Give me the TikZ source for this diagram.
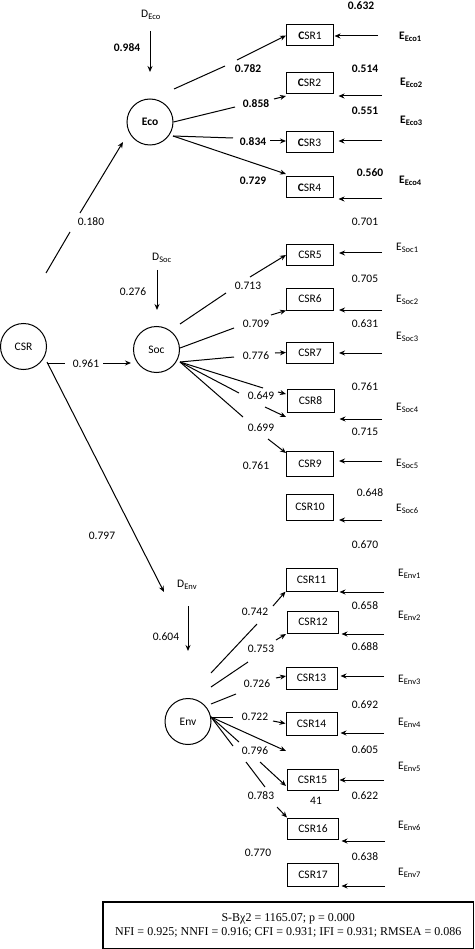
\documentclass[tikz,border=0pt]{standalone}
\usepackage{fontspec}
\setmainfont{Carlito}
\newfontfamily\timesfam{Liberation Serif}
\usetikzlibrary{arrows.meta}
\newcommand\lbl{\fontsize{11.5}{13}\selectfont}
\newcommand\subs[1]{\raisebox{-2pt}{\fontsize{8.5}{9}\selectfont #1}}
\begin{document}
\begin{tikzpicture}[x=1pt,y=-1pt,
  lat/.style={circle,draw,line width=1pt,minimum size=46pt,inner sep=0pt,font=\lbl},
  obs/.style={rectangle,draw,line width=1pt,minimum width=47pt,minimum height=21pt,inner sep=0pt,font=\lbl},
  obsw/.style={obs,minimum width=51pt,minimum height=22pt},
  num/.style={inner sep=0pt,font=\lbl},
  bnum/.style={inner sep=0pt,font=\lbl\bfseries},
  elab/.style={inner sep=0pt,anchor=base west,font=\lbl},
  belab/.style={elab,font=\lbl\bfseries},
  conn/.style={line width=1pt},
  arr/.style={conn,-{Stealth[length=6pt,width=5pt]}},
  err/.style={arr,shorten >=#1},
  err/.default=3pt,
]
\useasboundingbox (0,0) rectangle (474,949);

% ---------- latent variables
\node[lat] (csr) at (23.5,346.5) {CSR};
\node[lat,font=\lbl\bfseries] (eco) at (150,122) {Eco};
\node[lat] (soc) at (156.5,349.5) {Soc};
\node[lat] (env) at (188,721.5) {Env};

% ---------- observed variables
\node[obs] (c1) at (310,35.5) {\textbf{C}SR1};
\node[obs] (c2) at (309.5,83) {\textbf{C}SR2};
\node[obs] (c3) at (309.5,142.5) {\textbf{C}SR3};
\node[obs] (c4) at (309.5,187.5) {\textbf{C}SR4};
\node[obs] (c5) at (310,255) {CSR5};
\node[obs,minimum height=22pt] (c6) at (310,299) {CSR6};
\node[obs] (c7) at (310,352.5) {CSR7};
\node[obs,minimum height=23pt] (c8) at (310.5,401) {CSR8};
\node[obs,minimum height=25pt] (c9) at (310,463.5) {CSR9};
\node[obs,minimum height=26pt] (c10) at (310,507) {CSR10};
\node[obsw,minimum height=23pt] (c11) at (311.5,579.5) {CSR11};
\node[obsw] (c12) at (313,622) {CSR12};
\node[obsw] (c13) at (311.5,678) {CSR13};
\node[obsw,minimum height=23pt] (c14) at (311.5,723.5) {CSR14};
\node[obsw,minimum height=21pt] (c15) at (312.5,779.5) {CSR15};
\node[obsw,minimum height=21pt] (c16) at (313,828.5) {CSR16};
\node[obsw,minimum height=23pt] (c17) at (313,874.5) {CSR17};

% ---------- disturbance labels
\node[elab] (deco) at (141,18) {D\subs{Eco}};
\node[elab] (dsoc) at (152,261) {D\subs{Soc}};
\node[elab] (denv) at (177,587) {D\subs{Env}};

% ---------- error labels
\node[belab] (ee1) at (399,40) {E\subs{Eco1}};
\node[belab] (ee2) at (400,86) {E\subs{Eco2}};
\node[belab] (ee3) at (400,124) {E\subs{Eco3}};
\node[belab] (ee4) at (399,184) {E\subs{Eco4}};
\node[elab] (es1) at (396,251) {E\subs{Soc1}};
\node[elab] (es2) at (396,302) {E\subs{Soc2}};
\node[elab] (es3) at (396,339) {E\subs{Soc3}};
\node[elab] (es4) at (396,410) {E\subs{Soc4}};
\node[elab] (es5) at (396,466) {E\subs{Soc5}};
\node[elab] (es6) at (396,511) {E\subs{Soc6}};
\node[elab] (ev1) at (398,576) {E\subs{Env1}};
\node[elab] (ev2) at (398,618) {E\subs{Env2}};
\node[elab] (ev3) at (398,682) {E\subs{Env3}};
\node[elab] (ev4) at (398,725) {E\subs{Env4}};
\node[elab] (ev5) at (398,769) {E\subs{Env5}};
\node[elab] (ev6) at (398,828) {E\subs{Env6}};
\node[elab] (ev7) at (398,875) {E\subs{Env7}};

% ---------- error arrow starts
\coordinate (xe1) at (378,36);
\coordinate (xe2) at (382,96);
\coordinate (xe3) at (382,141);
\coordinate (xe4) at (382,199);
\coordinate (xs1) at (382,253);
\coordinate (xs2) at (382,310);
\coordinate (xs3) at (382,353);
\coordinate (xs4) at (382,419);
\coordinate (xs5) at (382,461);
\coordinate (xs6) at (382,520);
\coordinate (xv1) at (384,592);
\coordinate (xv2) at (384,634);
\coordinate (xv3) at (384,676);
\coordinate (xv4) at (384,733);
\coordinate (xv5) at (384,780);
\coordinate (xv6) at (385,841);
\coordinate (xv7) at (385,886);

\draw[err=0.5pt] (xe1) -- (c1.east |- xe1);
\draw[err=5pt] (xe2) -- (c2.east |- xe2);
\draw[err=5pt] (xe3) -- (c3.east |- xe3);
\draw[err=5pt] (xe4) -- (c4.east |- xe4);
\draw[err=5pt] (xs1) -- (c5.east |- xs1);
\draw[err=5pt] (xs2) -- (c6.east |- xs2);
\draw[err=5pt] (xs3) -- (c7.east |- xs3);
\draw[err=5pt] (xs4) -- (c8.east |- xs4);
\draw[err=5pt] (xs5) -- (c9.east |- xs5);
\draw[err=5pt] (xs6) -- (c10.east |- xs6);
\draw[err=2pt] (xv1) -- (c11.east |- xv1);
\draw[err=2.5pt] (xv2) -- (c12.east |- xv2);
\draw[err=3pt] (xv3) -- (c13.east |- xv3);
\draw[err=3pt] (xv4) -- (c14.east |- xv4);
\draw[err=1pt] (xv5) -- (c15.east |- xv5);
\draw[err=2.5pt] (xv6) -- (c16.east |- xv6);
\draw[err=2.5pt] (xv7) -- (c17.east |- xv7);

% ---------- disturbance arrows
\coordinate (de1) at (150,31);  \coordinate (de2) at (150,72);
\coordinate (ds1) at (157,270); \coordinate (ds2) at (157,310);
\coordinate (dv1) at (188,606); \coordinate (dv2) at (188,651);
\draw[arr] (de1) -- (de2);
\draw[arr] (ds1) -- (ds2);
\draw[arr] (dv1) -- (dv2);

% ---------- second-order paths
\coordinate (ce1) at (46,273); \coordinate (ce2) at (70,232);
\coordinate (ce3) at (80,213); \coordinate (ce4) at (123,142);
\draw[conn] (ce1) -- (ce2);
\draw[arr] (ce3) -- (ce4);
\coordinate (cs1) at (47,363); \coordinate (cs2) at (65,363);
\coordinate (cs3) at (103,363); \coordinate (cs4) at (131,363);
\draw[conn] (cs1) -- (cs2);
\draw[arr] (cs3) -- (cs4);
\coordinate (cv1) at (47,362); \coordinate (cv2) at (164,592);
\draw[arr] (cv1) -- (cv2);

% ---------- Eco loadings
\coordinate (e1a) at (174,89);  \coordinate (e1b) at (225,66); \coordinate (e1c) at (237,60);
\draw[conn] (e1a) -- (e1b);
\draw[arr] (e1c) -- (c1.west);
\coordinate (e2a) at (173.5,122); \coordinate (e2b) at (235,107);
\coordinate (e2c) at (274,99); \coordinate (e2d) at (286,96);
\draw[conn] (e2a) -- (e2b);
\draw[arr] (e2c) -- (e2d);
\coordinate (e3a) at (173,136); \coordinate (e3b) at (233,138);
\coordinate (e3c) at (270,141); \coordinate (e3d) at (286,141);
\draw[conn] (e3a) -- (e3b);
\draw[arr] (e3c) -- (e3d);
\coordinate (e4d) at (286,174);
\draw[arr] (e3a) -- (e4d);

% ---------- Soc loadings
\coordinate (s1a) at (180,324); \coordinate (s1b) at (226,293); \coordinate (s1c) at (250,277);
\draw[conn] (s1a) -- (s1b);
\draw[arr] (s1c) -- (c5.west);
\coordinate (s2a) at (180,348); \coordinate (s2b) at (234,328); \coordinate (s2c) at (271,315);
\draw[conn] (s2a) -- (s2b);
\draw[arr] (s2c) -- (c6.south west);
\coordinate (s3a) at (180,362); \coordinate (s3b) at (234,357); \coordinate (s3c) at (275,353);
\draw[conn] (s3a) -- (s3b);
\draw[arr] (s3c) -- (c7.west);
\coordinate (s4b) at (263,388); \coordinate (s4c) at (278,392); \coordinate (s4d) at (286,394);
\draw[conn] (s3a) -- (s4b);
\draw[arr] (s4c) -- (s4d);
\coordinate (s5b) at (239,393); \coordinate (s5c) at (265,407); \coordinate (s5d) at (286,417);
\draw[conn] (s3a) -- (s5b);
\draw[arr] (s5c) -- (s5d);
\coordinate (s6b) at (243,417); \coordinate (s6c) at (268,439); \coordinate (s6d) at (286,453);
\draw[conn] (s3a) -- (s6b);
\draw[arr] (s6c) -- (s6d);

% ---------- Env loadings
\coordinate (v1a) at (211,673); \coordinate (v1b) at (257,624); \coordinate (v1c) at (273,606);
\draw[conn] (v1a) -- (v1b);
\draw[arr] (v1c) -- (c11.south west);
\coordinate (v2a) at (211,687); \coordinate (v2b) at (248,662);
\coordinate (v2c) at (276,640); \coordinate (v2d) at (286,634);
\draw[conn] (v2a) -- (v2b);
\draw[arr] (v2c) -- (v2d);
\coordinate (v3a) at (211,704); \coordinate (v3b) at (236,694);
\coordinate (v3c) at (276,678); \coordinate (v3d) at (286,676);
\draw[conn] (v3a) -- (v3b);
\draw[arr] (v3c) -- (v3d);
\coordinate (v4a) at (211,717); \coordinate (v4b) at (233,717); \coordinate (v4c) at (273,721);
\draw[conn] (v4a) -- (v4b);
\draw[arr] (v4c) -- (c14.west);
\coordinate (v5d) at (286,751);
\draw[arr] (v4a) -- (v5d);
\coordinate (v6b) at (239,742); \coordinate (v6c) at (260,762); \coordinate (v6d) at (286,786);
\draw[conn] (v4a) -- (v6b);
\draw[arr] (v6c) -- (v6d);
\coordinate (v7b) at (233,746); \coordinate (v7c) at (246,762); \coordinate (v7d) at (265,787);
\coordinate (v7e) at (277,807);
\draw[conn] (v4a) -- (v7b);
\draw[conn] (v7c) -- (v7d);
\draw[arr] (v7e) -- (c16.north west);

% ---------- Eco numbers (bold)
\node[bnum] (n01) at (127,48) {0.984};
\node[bnum] (n02) at (361,6) {0.632};
\node[bnum] (n03) at (248,69) {0.782};
\node[bnum] (n04) at (365,69) {0.514};
\node[bnum] (n05) at (256,104) {0.858};
\node[bnum] (n06) at (365,111) {0.551};
\node[bnum] (n07) at (253,142) {0.834};
\node[bnum] (n08) at (370,173) {0.560};
\node[bnum] (n09) at (253,181) {0.729};
\node[num] (n10) at (365,222) {0.701};
\node[num] (n11) at (91,222) {0.180};

% ---------- Soc numbers
\node[num] (n12) at (133,292) {0.276};
\node[num] (n13) at (248,286) {0.713};
\node[num] (n14) at (365,279) {0.705};
\node[num] (n15) at (256,324) {0.709};
\node[num] (n16) at (365,324) {0.631};
\node[num] (n17) at (256,356) {0.776};
\node[num] (n18) at (86,364) {0.961};
\node[num] (n19) at (365,387) {0.761};
\node[num] (n20) at (261,396) {0.649};
\node[num] (n21) at (261,428) {0.699};
\node[num] (n22) at (365,432) {0.715};
\node[num] (n23) at (256,466) {0.761};
\node[num] (n24) at (370,493) {0.648};
\node[num] (n25) at (365,545) {0.670};
\node[num] (n26) at (102,536) {0.797};

% ---------- Env numbers
\node[num] (n27) at (166,637) {0.604};
\node[num] (n28) at (255,612) {0.742};
\node[num] (n29) at (365,606) {0.658};
\node[num] (n30) at (261,649) {0.753};
\node[num] (n31) at (365,647) {0.688};
\node[num] (n32) at (257,684) {0.726};
\node[num] (n33) at (365,705) {0.692};
\node[num] (n34) at (255,717) {0.722};
\node[num] (n35) at (365,750) {0.605};
\node[num] (n36) at (255,751) {0.796};
\node[num] (n37) at (261,796) {0.783};
\node[num] (n38) at (365,796) {0.622};
\node[num] (n39) at (316,801) {41};
\node[num] (n40) at (258,853) {0.770};
\node[num] (n41) at (365,857) {0.638};

% ---------- fit box
\node[draw,line width=1.1pt,minimum width=370.5pt,minimum height=46.5pt,inner sep=0pt,
      align=center,font={\timesfam\fontsize{12}{14}\selectfont}] (fit) at (288.25,925.25)
  {S-B\char"03C7 2 = 1165.07; p = 0.000\\NFI = 0.925; NNFI = 0.916; CFI = 0.931; IFI = 0.931; RMSEA = 0.086};
\end{tikzpicture}
\end{document}
